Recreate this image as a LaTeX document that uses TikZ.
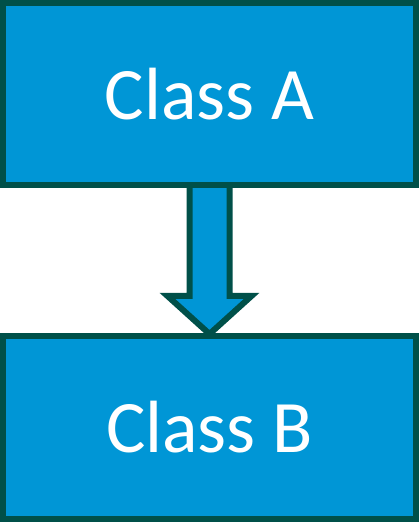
\documentclass[tikz,border=0pt]{standalone}
\usepackage{fontspec}
\setmainfont{Carlito}
\usetikzlibrary{calc,backgrounds}
\definecolor{boxfill}{RGB}{0,150,214}
\definecolor{boxline}{RGB}{0,80,73}
\begin{document}
\begin{tikzpicture}[x=1pt,y=1pt,
  classbox/.style={draw=boxline, fill=boxfill, line width=6pt, text=white,
    minimum width=413pt, inner sep=0pt, font=\fontsize{74}{86}\selectfont},
  blockarrow/.style={draw=boxline, fill=boxfill, line width=6pt, line join=miter}]
\useasboundingbox (0,0) rectangle (419,522);
\node[classbox, minimum height=182pt] (A) at (209.5,428) {Class A};
\node[classbox, minimum height=183pt] (B) at (209.5,94.5) {Class B};
\begin{scope}[on background layer]
\coordinate (s) at ($(A.south)+(0,5)$);   % shaft top
\coordinate (t) at ($(B.north)+(0,-1)$);  % tip
\filldraw[blockarrow] ($(s)+(-20,0)$) -- ($(t)+(-20,38)$) -- ($(t)+(-42,38)$) -- (t)
  -- ($(t)+(42,38)$) -- ($(t)+(20,38)$) -- ($(s)+(20,0)$) -- cycle;
\end{scope}
\end{tikzpicture}
\end{document}
